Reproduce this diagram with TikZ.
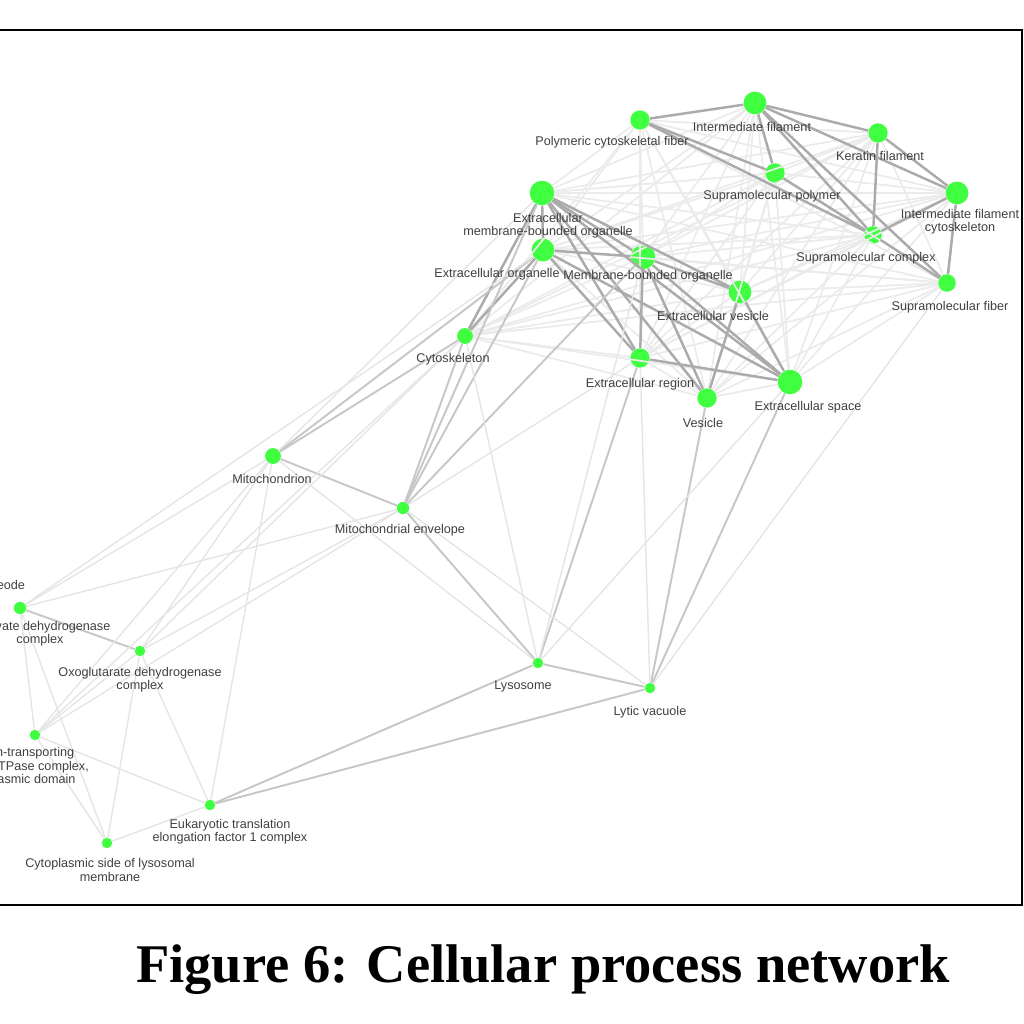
\documentclass[tikz,border=0pt]{standalone}
\usepackage{fontspec}
\setmainfont{Liberation Serif}
\newfontfamily\labelfont{Liberation Sans}
\usetikzlibrary{calc}
\begin{document}
\begin{tikzpicture}[x=0.02cm,y=-0.02cm,
  vert/.style={circle,fill=green!75!white,draw=none,inner sep=0pt,minimum size=#1},
  vert/.default=9,
  lbl/.style={font=\labelfont\fontsize{7.2}{7.6}\selectfont,text=black!75,align=center,inner sep=0pt},
  faint/.style={draw=black!8,line width=0.8pt},
  mid/.style={draw=black!22,line width=1.1pt},
  strong/.style={draw=black!33,line width=1.4pt}]
\useasboundingbox (0,0) rectangle (1024,1024);
% frame
\draw[line width=1pt] (-5,30) -- (1022,30) -- (1022,905) -- (-5,905);
\begin{scope}
\clip (0,31) rectangle (1021,904);
% vertices
\node[vert=13] (intf) at (755,103) {};
\node[vert=11] (poly) at (640,120) {};
\node[vert=11] (kera) at (878,133) {};
\node[vert=11] (supp) at (775,173) {};
\node[vert=13] (ifcy) at (957,193) {};
\node[vert=10] (supc) at (873,235) {};
\node[vert=10] (supf) at (947,283) {};
\node[vert=14] (exmb) at (542,193) {};
\node[vert=13] (exor) at (543,250) {};
\node[vert=14] (mbor) at (643,257) {};
\node[vert=13] (exve) at (740,292) {};
\node[vert=9]  (cyto) at (465,336) {};
\node[vert=11] (exre) at (640,358) {};
\node[vert=14] (exsp) at (790,382) {};
\node[vert=11] (vesi) at (707,398) {};
\node[vert=9]  (mito) at (273,456) {};
\node[vert=7]  (menv) at (403,508) {};
\node[vert=6]  (lyso) at (538,663) {};
\node[vert=6]  (lyva) at (650,688) {};
\node[vert=7]  (pyru) at (20,608) {};
\node[vert=6]  (oxog) at (140,651) {};
\node[vert=6]  (vatp) at (35,735) {};
\node[vert=6]  (eukt) at (210,805) {};
\node[vert=6]  (cysl) at (107,843) {};
% connectors
\foreach \a in {intf,poly,kera,supp,ifcy,supc,supf,exmb,exor,mbor,exve,exre,exsp,vesi,cyto}
  \foreach \b in {intf,poly,kera,supp,ifcy,supc,supf,exmb,exor,mbor,exve,exre,exsp,vesi,cyto}
    \draw[faint] (\a) -- (\b);
\foreach \a/\b in {intf/kera,intf/supp,intf/ifcy,intf/supc,intf/supf,kera/ifcy,kera/supc,supp/supc,
    ifcy/supc,ifcy/supf,supc/supf,poly/supp,poly/supc,poly/intf,exmb/exor,exmb/mbor,exmb/exve,
    exmb/exsp,exor/exre,exor/exsp,exor/mbor,mbor/exve,mbor/exsp,mbor/exre,exve/exsp,exre/exsp,
    vesi/exve,vesi/exmb,exor/cyto,exmb/cyto,mbor/vesi,exre/exmb}
  \draw[strong] (\a) -- (\b);
\foreach \a/\b in {mito/menv,mito/cyto,menv/cyto,menv/exmb,menv/exor,menv/mbor,mito/exor,
    lyso/lyva,lyso/menv,eukt/lyso,eukt/lyva,pyru/oxog,lyva/exsp,lyso/exre,lyva/vesi}
  \draw[mid] (\a) -- (\b);
\foreach \a/\b in {mito/pyru,mito/oxog,mito/vatp,menv/pyru,menv/oxog,menv/vatp,mito/exmb,
    pyru/vatp,oxog/vatp,vatp/eukt,vatp/cysl,oxog/eukt,oxog/cysl,pyru/cysl,cysl/eukt,
    menv/lyva,lyso/exsp,lyva/exre,lyso/cyto,menv/exre,cyto/oxog,mito/lyso,pyru/exor,
    lyso/mbor,lyva/supf,eukt/mito,vatp/cyto}
  \draw[faint,draw=black!10] (\a) -- (\b);
% labels
\node[lbl] (lintf) at (752,127) {Intermediate filament};
\node[lbl] (lpoly) at (612,142) {Polymeric cytoskeletal fiber};
\node[lbl] (lkera) at (880,156) {Keratin filament};
\node[lbl] (lsupp) at (772,196) {Supramolecular polymer};
\node[lbl] (lifcy) at (960,222) {Intermediate filament\\cytoskeleton};
\node[lbl] (lsupc) at (866,258) {Supramolecular complex};
\node[lbl] (lsupf) at (950,307) {Supramolecular fiber};
\node[lbl] (lexmb) at (548,226) {Extracellular\\membrane-bounded organelle};
\node[lbl] (lexor) at (497,274) {Extracellular organelle};
\node[lbl] (lmbor) at (648,276) {Membrane-bounded organelle};
\node[lbl] (lexve) at (713,316) {Extracellular vesicle};
\node[lbl] (lcyto) at (453,359) {Cytoskeleton};
\node[lbl] (lexre) at (640,384) {Extracellular region};
\node[lbl] (lexsp) at (808,407) {Extracellular space};
\node[lbl] (lvesi) at (703,423) {Vesicle};
\node[lbl] (lmito) at (272,479) {Mitochondrion};
\node[lbl] (lmenv) at (400,530) {Mitochondrial envelope};
\node[lbl] (llyso) at (523,686) {Lysosome};
\node[lbl] (llyva) at (650,712) {Lytic vacuole};
\node[lbl] (lnucl) at (-40,585) {Mitochondrial nucleode};
\node[lbl] (lpyru) at (40,634) {Pyruvate dehydrogenase\\complex};
\node[lbl] (loxog) at (140,680) {Oxoglutarate dehydrogenase\\complex};
\node[lbl] (lvatp) at (20,767) {Proton-transporting\\V-type ATPase complex,\\cytoplasmic domain};
\node[lbl] (leukt) at (230,832) {Eukaryotic translation\\elongation factor 1 complex};
\node[lbl] (lcysl) at (110,870) {Cytoplasmic side of lysosomal\\membrane};
\end{scope}
% caption
\node[font=\bfseries\fontsize{31}{34}\selectfont] (caption) at (543,970) {Figure 6: Cellular process network};
\end{tikzpicture}
\end{document}
